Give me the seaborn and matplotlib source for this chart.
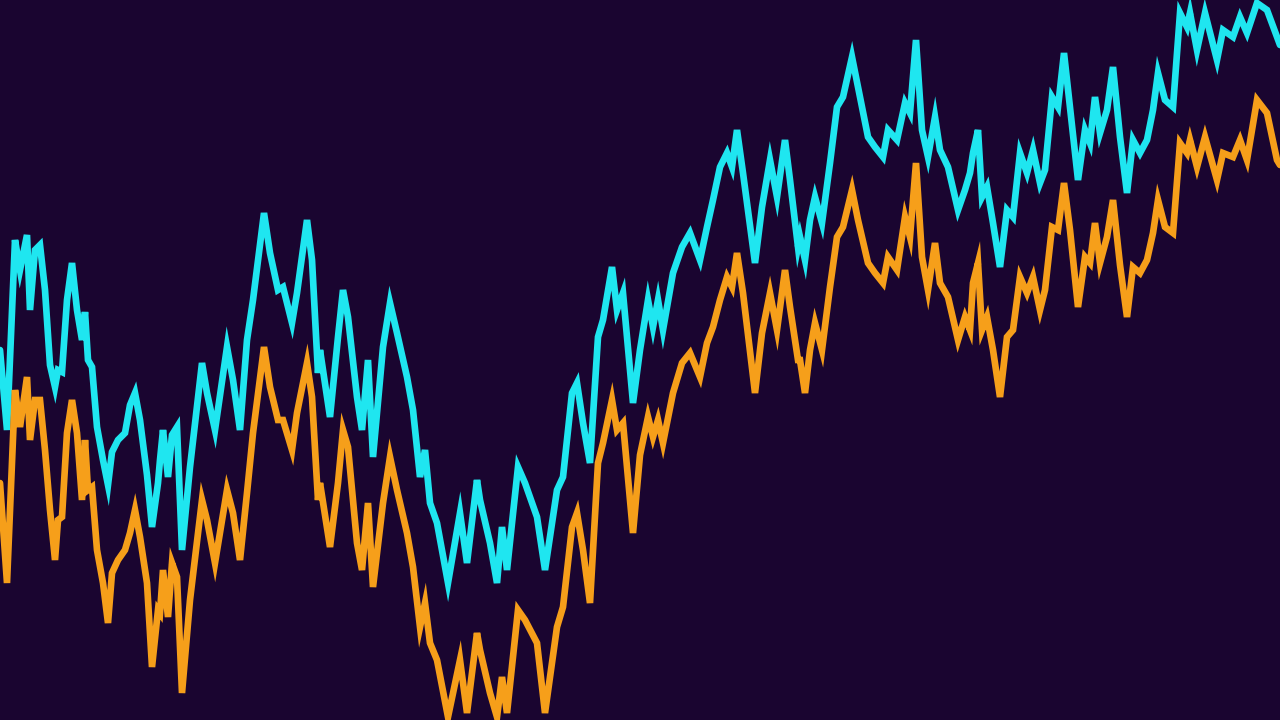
import numpy as np
import pandas as pd
import seaborn as sns
import matplotlib.pyplot as plt

# positions along the time axis (same for both series)
t = [0, 7, 15, 20, 27, 30, 35, 40, 45, 50, 55, 58, 62, 67, 72, 77, 82, 85, 88, 92,
     97, 103, 108, 112, 118, 125, 130, 135, 140, 147, 152, 158,
     160, 163, 168, 172, 177, 182, 190, 202, 207, 215, 227, 233, 240, 247, 253, 264,
     270, 278, 283, 292, 297, 307, 312, 318,
     320, 330, 338, 343, 348, 357, 362, 368, 373, 383, 390, 397, 407, 413, 420, 425,
     430, 437, 448, 460, 467, 477,
     480, 490, 497, 502, 507, 518, 525, 537, 545, 557, 563, 572, 577, 583, 590, 598,
     603, 612, 617, 623, 633, 640,
     648, 653, 658, 663, 673, 682, 690, 700, 707, 713, 720, 727, 732, 737, 743, 755,
     762, 770, 777, 785, 790, 798,
     800, 805, 810, 815, 822, 830, 837, 843, 852, 858, 868, 875, 883, 888, 897, 905,
     910, 916, 922, 928, 935, 940, 948, 958,
     965, 970, 973, 978, 982, 987, 993, 1000, 1007, 1013, 1020, 1027, 1033, 1040, 1045, 1052,
     1058, 1064, 1070, 1078, 1085, 1090, 1095, 1100, 1107, 1113, 1120,
     1127, 1133, 1140, 1147, 1153, 1158, 1165, 1173, 1180, 1187, 1190, 1197, 1205, 1217, 1223, 1233,
     1240, 1247, 1257, 1267, 1277, 1280]

# depth below the top edge (axis is flipped)
cyan = [350, 430, 240, 270, 235, 310, 250, 245, 290, 365, 387, 370, 372, 300, 263, 310, 340, 312, 360, 367,
        427, 460, 485, 452, 440, 433, 405, 393, 420, 475, 527, 483,
        460, 430, 477, 435, 427, 550, 467, 363, 393, 430, 347, 380, 430, 340, 300, 213,
        253, 290, 287, 323, 293, 220, 260, 373,
        350, 417, 337, 290, 317, 397, 430, 360, 457, 347, 303, 333, 377, 410, 477, 450,
        503, 523, 583, 513, 563, 480,
        500, 543, 583, 527, 570, 467, 483, 517, 570, 490, 477, 393, 383, 423, 463, 337,
        320, 267, 310, 293, 403, 350,
        300, 327, 300, 330, 273, 247, 233, 260, 227, 200, 167, 153, 167, 130, 173, 263,
        207, 160, 197, 140, 180, 247,
        237, 260, 220, 197, 223, 163, 107, 97, 57, 87, 137, 147, 157, 130, 140, 103,
        113, 40, 130, 157, 117, 150, 167, 210,
        190, 173, 153, 130, 197, 187, 223, 267, 210, 217, 153, 173, 150, 183, 170, 97,
        107, 53, 107, 180, 130, 143, 97, 133, 110, 67, 137,
        193, 140, 153, 140, 110, 73, 100, 107, 13, 27, 13, 50, 13, 60, 30, 37,
        17, 33, 3, 10, 37, 45]

orange = [483, 583, 390, 427, 377, 440, 400, 400, 450, 510, 560, 520, 517, 433, 400, 433, 500, 440, 490, 487,
          550, 583, 623, 573, 560, 550, 533, 510, 537, 583, 667, 610,
          613, 570, 617, 563, 577, 693, 600, 500, 520, 563, 490, 513, 560, 493, 433, 347,
          387, 420, 420, 450, 413, 363, 397, 500,
          483, 547, 483, 430, 447, 543, 570, 503, 587, 503, 457, 490, 533, 567, 627, 603,
          643, 660, 717, 660, 713, 633,
          650, 693, 717, 677, 713, 610, 620, 643, 713, 627, 607, 527, 513, 550, 603, 463,
          443, 400, 430, 423, 533, 455,
          417, 437, 420, 443, 393, 363, 353, 377, 343, 327, 300, 277, 287, 253, 293, 393,
          333, 293, 330, 270, 307, 360,
          360, 393, 350, 323, 350, 287, 237, 227, 190, 220, 263, 273, 283, 257, 270, 217,
          237, 163, 257, 290, 243, 283, 297, 340,
          317, 330, 283, 263, 330, 317, 350, 397, 337, 330, 277, 293, 277, 310, 290, 227,
          230, 183, 230, 307, 257, 263, 223, 263, 237, 200, 265,
          317, 267, 273, 260, 233, 200, 227, 233, 143, 153, 140, 167, 137, 180, 153, 157,
          140, 160, 100, 113, 160, 165]

assert len(t) == len(cyan) == len(orange)

df = pd.DataFrame({"t": t * 2,
                   "value": cyan + orange,
                   "series": ["cyan"] * len(t) + ["orange"] * len(t)})

bg = "#1a0530"
sns.set_style("dark", {"axes.facecolor": bg, "figure.facecolor": bg})

fig = plt.figure(figsize=(12.8, 7.2), dpi=100)
ax = fig.add_axes([0, 0, 1, 1])
sns.lineplot(data=df, x="t", y="value", hue="series",
             palette={"cyan": "#1fe6f0", "orange": "#f69f1a"},
             linewidth=4.8, legend=False, ax=ax,
             solid_joinstyle="miter")
ax.set_xlim(0, 1280)
ax.set_ylim(720, 0)
ax.axis("off")
fig.savefig("out.png", dpi=100, facecolor=bg)
